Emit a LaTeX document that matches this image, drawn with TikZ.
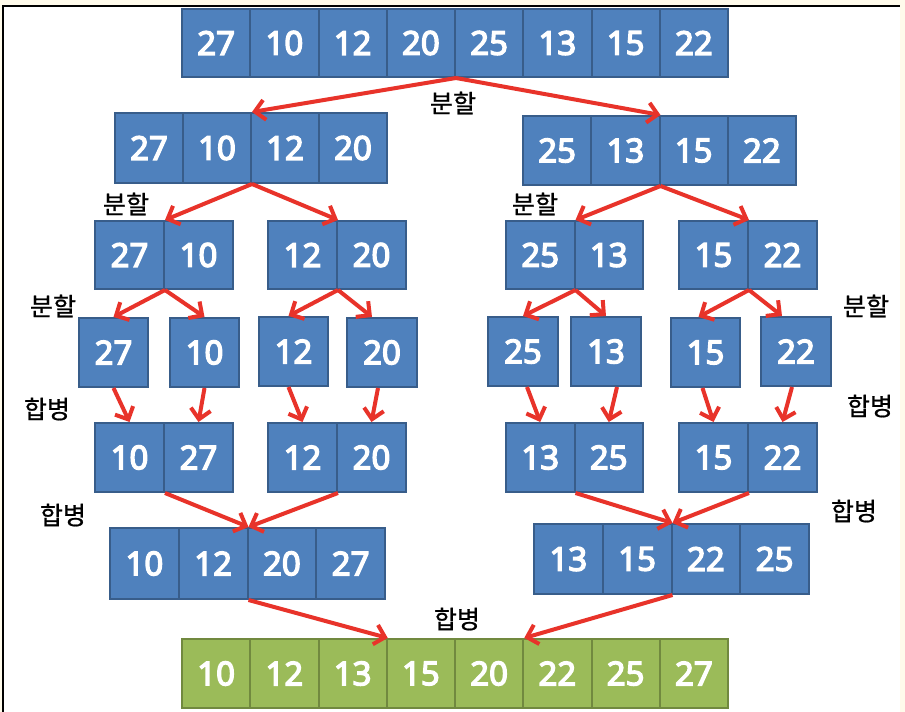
\documentclass[tikz,border=0pt]{standalone}
\usepackage{fontspec}
\newfontfamily\numfont{Noto Sans}[FakeBold=4]
\newfontfamily\kofont{Noto Sans CJK KR}[FakeBold=0.8]
\usetikzlibrary{arrows.meta}
\definecolor{cellblue}{HTML}{4F81BD}
\definecolor{cellblueline}{HTML}{385D8A}
\definecolor{cellgreen}{HTML}{9BBB59}
\definecolor{cellgreenline}{HTML}{71893F}
\definecolor{arrowred}{HTML}{E8332A}
\definecolor{cream}{HTML}{FFFBEB}
\tikzset{
 cell/.style={draw=cellblueline, fill=cellblue, line width=2pt, inner sep=0pt, text=white, font=\numfont\fontsize{33}{33}\selectfont},
 gcell/.style={cell, draw=cellgreenline, fill=cellgreen},
 lbl/.style={font=\kofont\fontsize{25}{25}\selectfont, inner sep=0pt},
 arr/.style={draw=arrowred, line width=4pt, -{Straight Barb[length=10pt,width=20pt]}},
}
\begin{document}
\begin{tikzpicture}[x=1pt,y=-1pt]
\useasboundingbox (0,0) rectangle (905,712);
\fill[cream] (0,0) rectangle (905,712);
\fill[white] (3,6) rectangle (900,712);
\draw[black, line width=1.5pt] (3,712) -- (3,6) -- (900,6);
% row 1
\foreach \v [count=\i] in {27,10,12,20,25,13,15,22}
  \node[cell, minimum width=68.25pt, minimum height=68pt] (a\i) at ({182+68.25*(\i-0.5)},43) {\v};
% row 2
\foreach \v [count=\i] in {27,10,12,20}
  \node[cell, minimum width=68pt, minimum height=70pt] (b\i) at ({115+68*(\i-0.5)},148) {\v};
\foreach \v [count=\i] in {25,13,15,22}
  \node[cell, minimum width=68.25pt, minimum height=69pt] (c\i) at ({523+68.25*(\i-0.5)},150.5) {\v};
% row 3
\foreach \v [count=\i] in {27,10}
  \node[cell, minimum width=69pt, minimum height=68pt] (d\i) at ({95+69*(\i-0.5)},255) {\v};
\foreach \v [count=\i] in {12,20}
  \node[cell, minimum width=69pt, minimum height=68pt] (e\i) at ({268+69*(\i-0.5)},255) {\v};
\foreach \v [count=\i] in {25,13}
  \node[cell, minimum width=68.5pt, minimum height=68pt] (f\i) at ({506+68.5*(\i-0.5)},255) {\v};
\foreach \v [count=\i] in {15,22}
  \node[cell, minimum width=69pt, minimum height=68pt] (g\i) at ({679+69*(\i-0.5)},255) {\v};
% row 4
\node[cell, minimum width=69pt, minimum height=69pt] (s1) at (113.5,352.5) {27};
\node[cell, minimum width=69pt, minimum height=69pt] (s2) at (204.5,352.5) {10};
\node[cell, minimum width=69pt, minimum height=69pt] (s3) at (293.5,351.5) {12};
\node[cell, minimum width=70pt, minimum height=69pt] (s4) at (382,352.5) {20};
\node[cell, minimum width=70pt, minimum height=69pt] (s5) at (523,351.5) {25};
\node[cell, minimum width=70pt, minimum height=69pt] (s6) at (606,351.5) {13};
\node[cell, minimum width=69pt, minimum height=69pt] (s7) at (705.5,352.5) {15};
\node[cell, minimum width=70pt, minimum height=69pt] (s8) at (796,351.5) {22};
% row 5
\foreach \v [count=\i] in {10,27}
  \node[cell, minimum width=69pt, minimum height=69pt] (h\i) at ({95+69*(\i-0.5)},457.5) {\v};
\foreach \v [count=\i] in {12,20}
  \node[cell, minimum width=69pt, minimum height=69pt] (i\i) at ({268+69*(\i-0.5)},457.5) {\v};
\foreach \v [count=\i] in {13,25}
  \node[cell, minimum width=68.5pt, minimum height=69pt] (j\i) at ({506+68.5*(\i-0.5)},457.5) {\v};
\foreach \v [count=\i] in {15,22}
  \node[cell, minimum width=69pt, minimum height=69pt] (k\i) at ({679+69*(\i-0.5)},457.5) {\v};
% row 6
\foreach \v [count=\i] in {10,12,20,27}
  \node[cell, minimum width=68.75pt, minimum height=71pt] (m\i) at ({110+68.75*(\i-0.5)},563.5) {\v};
\foreach \v [count=\i] in {13,15,22,25}
  \node[cell, minimum width=68.75pt, minimum height=70pt] (n\i) at ({534+68.75*(\i-0.5)},559) {\v};
% row 7
\foreach \v [count=\i] in {10,12,13,15,20,22,25,27}
  \node[gcell, minimum width=68.25pt, minimum height=69pt] (q\i) at ({182+68.25*(\i-0.5)},673.5) {\v};
% labels
\node[lbl] (l1) at (453,103) {분할};
\node[lbl] (l2) at (126,204) {분할};
\node[lbl] (l3) at (535,204) {분할};
\node[lbl] (l4) at (53,306) {분할};
\node[lbl] (l5) at (866,306) {분할};
\node[lbl] (l6) at (47,409) {합병};
\node[lbl] (l7) at (870,406) {합병};
\node[lbl] (l8) at (63,515) {합병};
\node[lbl] (l9) at (854,511) {합병};
\node[lbl] (l10) at (457,619) {합병};
% arrows
\draw[arr] (a4.south east) -- (b2.north east);
\draw[arr] (a4.south east) -- (c2.north east);
\draw[arr] (b2.south east) -- (d1.north east);
\draw[arr] (b2.south east) -- (e1.north east);
\draw[arr] (c2.south east) -- (f1.north east);
\draw[arr] (c2.south east) -- (g1.north east);
\draw[arr] (d1.south east) -- (s1.north);
\draw[arr] (d1.south east) -- (s2.north);
\draw[arr] (e1.south east) -- ([xshift=-5pt]s3.north);
\draw[arr] (e1.south east) -- ([xshift=-10pt]s4.north);
\draw[arr] (f1.south east) -- (s5.north);
\draw[arr] (f1.south east) -- (s6.north);
\draw[arr] (g1.south east) -- ([xshift=-7pt]s7.north);
\draw[arr] (g1.south east) -- ([xshift=-14pt]s8.north);
\draw[arr] (s1.south) -- (h1.north);
\draw[arr] (s2.south) -- (h2.north);
\draw[arr] ([xshift=-5pt]s3.south) -- (i1.north);
\draw[arr] ([xshift=-4pt]s4.south) -- (i2.north);
\draw[arr] ([xshift=4pt]s5.south) -- (j1.north);
\draw[arr] ([xshift=11pt]s6.south) -- (j2.north);
\draw[arr] ([xshift=-3pt]s7.south) -- (k1.north);
\draw[arr] ([xshift=-4pt]s8.south) -- (k2.north);
\draw[arr] (h1.south east) -- (m2.north east);
\draw[arr] (i1.south east) -- (m2.north east);
\draw[arr] (j1.south east) -- (n2.north east);
\draw[arr] (k1.south east) -- (n2.north east);
\draw[arr] (m2.south east) -- (q3.north east);
\draw[arr] (n2.south east) -- (q5.north east);
\end{tikzpicture}
\end{document}
